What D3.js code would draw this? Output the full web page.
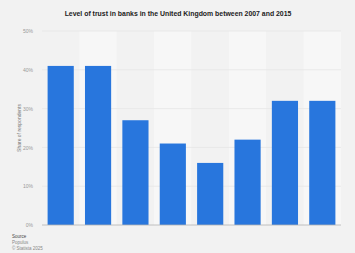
<!DOCTYPE html>
<html><head><meta charset="utf-8">
<script src="https://cdn.jsdelivr.net/npm/d3@7/dist/d3.min.js"></script>
<style>
html,body{margin:0;padding:0;background:#f2f2f2;}
svg{display:block;font-family:"Liberation Sans",Arial,sans-serif;}
</style></head>
<body>
<svg id="c" width="355" height="253"></svg>
<script>
const years = ["2007","2008","2009","2010","2011","2012","2013","2014"];
const trustShare = [41, 41, 27, 21, 16, 22, 32, 32];
const yTicks = [0, 10, 20, 30, 40, 50];
const titleText = "Level of trust in banks in the United Kingdom between 2007 and 2015";
const yTitle = "Share of respondents";
const sourceLines = ["Source", "Populus", "© Statista 2025"];

const svg = d3.select("#c");
const W = 355, H = 253;
const m = {left: 42, right: 14, top: 31, bottom: 28};
svg.append("rect").attr("width", W).attr("height", H).attr("fill", "#f2f2f2");

const x = d3.scaleBand().domain(years).range([m.left, W - m.right]).paddingInner(0.3).paddingOuter(0.15);
const y = d3.scaleLinear().domain([0, 50]).range([H - m.bottom, m.top]);

svg.append("g").selectAll("rect").data(years).join("rect")
  .attr("x", d => x(d) - x.step() * x.paddingInner() / 2)
  .attr("width", x.step())
  .attr("y", y(50)).attr("height", y(0) - y(50))
  .attr("fill", (d, i) => i % 2 ? "#f7f7f7" : "#f2f2f2");

const yAxis = d3.axisLeft(y).tickValues(yTicks).tickFormat(d => d + "%").tickSize(0).tickPadding(9);
const gy = svg.append("g").attr("transform", `translate(${m.left},0)`).call(yAxis);
gy.select(".domain").remove();
gy.selectAll("text").attr("fill", "#999").attr("font-size", 5);
svg.append("g").selectAll("line").data(yTicks.filter(t => t > 0)).join("line")
  .attr("x1", m.left).attr("x2", W - m.right)
  .attr("y1", d => y(d)).attr("y2", d => y(d))
  .attr("stroke", "#e6e6e6").attr("stroke-width", 0.8);

svg.append("g").selectAll("rect").data(years).join("rect")
  .attr("x", d => x(d)).attr("width", x.bandwidth())
  .attr("y", (d, i) => y(trustShare[i]))
  .attr("height", (d, i) => y(0) - y(trustShare[i]))
  .attr("fill", "#2876dd");

svg.append("line").attr("x1", m.left).attr("x2", W - m.right)
  .attr("y1", y(0)).attr("y2", y(0)).attr("stroke", "#b3b3b3").attr("stroke-width", 0.8);

svg.append("text").attr("x", 178).attr("y", 15.8).attr("text-anchor", "middle")
  .attr("font-size", 6.9).attr("font-weight", "bold").attr("fill", "#222").text(titleText);

svg.append("text").attr("transform", `translate(21,${(y(0)+y(50))/2}) rotate(-90)`)
  .attr("text-anchor", "middle").attr("font-size", 5).attr("fill", "#777").text(yTitle);

svg.selectAll(".src").data(sourceLines).join("text")
  .attr("x", 12).attr("y", (d, i) => 237.5 + i * 6)
  .attr("font-size", 4.5)
  .attr("fill", (d, i) => i ? "#888" : "#444")
  .text(d => d);
</script>
</body></html>
